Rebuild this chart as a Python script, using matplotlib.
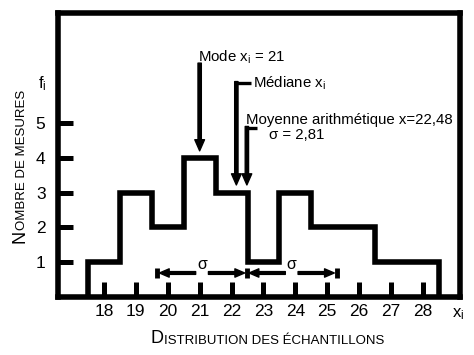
import matplotlib
matplotlib.use('Agg')
import matplotlib.pyplot as plt

plt.rcParams['font.family'] = ['Liberation Sans', 'DejaVu Sans']
plt.rcParams['mathtext.fontset'] = 'custom'
plt.rcParams['mathtext.rm'] = 'Liberation Sans'
plt.rcParams['mathtext.it'] = 'Liberation Sans'

# donnees
valeurs = [18, 19, 20, 21, 22, 23, 24, 25, 26, 27, 28]
effectifs = [1, 3, 2, 4, 3, 1, 3, 2, 2, 1, 1]
y_ticks = [1, 2, 3, 4, 5]
mode = 21
mediane = 22.15
moyenne = 22.48
sigma = 2.81

fig = plt.figure(figsize=(4.74, 3.55), dpi=100)
ax = fig.add_axes([58 / 474, 1 - 297 / 355, (460 - 58) / 474, (297 - 13) / 355])

# histogramme en escalier
bords = [v - 0.5 for v in valeurs] + [valeurs[-1] + 0.5]
ax.stairs(effectifs, bords, baseline=0, color='black', lw=4, joinstyle='miter')

ax.set_xlim(16.56, 29.16)
ax.set_ylim(0, 8.16)
for s in ax.spines.values():
    s.set_linewidth(4)
ax.set_xticks(valeurs)
ax.set_yticks(y_ticks)
ax.tick_params(direction='in', length=11, width=3.6, labelsize=12.5)
ax.tick_params(axis='x', pad=5)
ax.tick_params(axis='y', pad=9)

# fleches mode / mediane / moyenne
fleche = dict(width=2.4, headwidth=7, headlength=8, color='black', shrink=0)
ax.annotate('', xy=(mode, 4.2), xytext=(mode, 6.72), arrowprops=fleche)
ax.text(mode - 0.06, 6.9, r'Mode $x_i$ = 21', fontsize=10.8, va='center')

ax.plot([mediane, mediane + 0.45], [6.15, 6.15], color='black', lw=2.4, solid_capstyle='butt')
ax.annotate('', xy=(mediane, 3.22), xytext=(mediane, 6.19), arrowprops=fleche)
ax.text(mediane + 0.53, 6.15, r'Médiane $x_i$', fontsize=10.8, va='center')

ax.plot([moyenne, moyenne + 0.32], [4.86, 4.86], color='black', lw=2.4, solid_capstyle='butt')
ax.annotate('', xy=(moyenne, 3.22), xytext=(moyenne, 4.9), arrowprops=fleche)
ax.text(moyenne - 0.02, 5.08, 'Moyenne arithmétique x=22,48', fontsize=10.8, va='center')
ax.text(moyenne + 0.68, 4.66, 'σ = 2,81', fontsize=10.8, va='center')

# ecarts-types
y_s = 0.69
petite = dict(width=2.0, headwidth=6, headlength=7, color='black', shrink=0)
gauche = moyenne - sigma
droite = moyenne + sigma
for a, b in [(gauche, moyenne), (moyenne, droite)]:
    m = (a + b) / 2
    ax.annotate('', xy=(a + 0.07, y_s), xytext=(m - 0.2, y_s), arrowprops=petite)
    ax.annotate('', xy=(b - 0.07, y_s), xytext=(m + 0.2, y_s), arrowprops=petite)
    ax.text(m, y_s + 0.12, 'σ', ha='center', va='baseline', fontsize=11.5)
ax.plot([gauche, moyenne, droite], [y_s] * 3, ls='none', marker='|', ms=7, mew=3.5, color='black')

# f_i et x_i
ax.text(15.94, 6.0, r'$f_i$', fontsize=12, va='baseline', clip_on=False)
ax.text(28.92, -0.575, r'$x_i$', fontsize=12, va='baseline', clip_on=False)

# titres d'axes en petites capitales
t = fig.text(28 / 474, 1 - 243 / 355, 'N', rotation=90, ha='right', va='bottom', fontsize=13)
ax.annotate('OMBRE DE MESURES', xy=(1, 1), xycoords=t, rotation=90, ha='right', va='bottom',
            fontsize=9.5, annotation_clip=False)
t2 = fig.text(151 / 474, 1 - 343 / 355, 'D', ha='left', va='baseline', fontsize=13)
ax.annotate('ISTRIBUTION DES ÉCHANTILLONS', xy=(1, 0), xycoords=t2, ha='left', va='bottom',
            fontsize=9.5, annotation_clip=False)

fig.savefig('out.png', dpi=100)
